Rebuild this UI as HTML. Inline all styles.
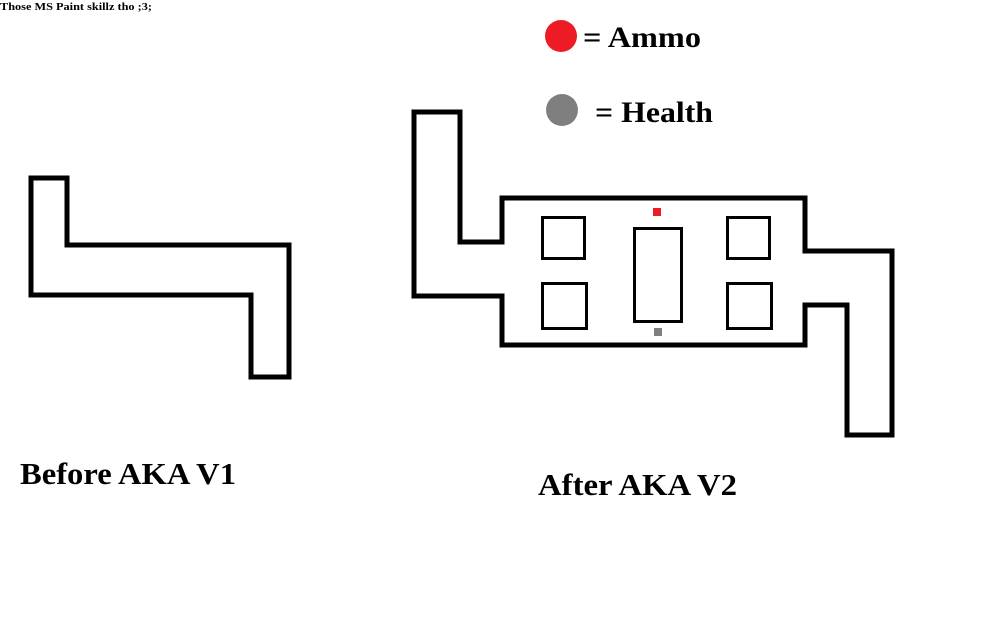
<!DOCTYPE html>
<html><head><style>
body{margin:0;width:981px;height:640px;background:#fff;overflow:hidden}
svg{display:block}
text{font-family:"Liberation Serif",serif;font-weight:bold;fill:#000}
</style></head><body>
<svg width="981" height="640" viewBox="0 0 981 640">
<text x="0" y="10" font-size="11" textLength="152" lengthAdjust="spacingAndGlyphs">Those MS Paint skillz tho ;3;</text>
<circle cx="561" cy="36" r="16" fill="#ed1c24"/>
<text x="583" y="47" font-size="30" textLength="118" lengthAdjust="spacingAndGlyphs">= Ammo</text>
<circle cx="562" cy="110" r="16" fill="#7f7f7f"/>
<text x="595" y="122" font-size="30" textLength="118" lengthAdjust="spacingAndGlyphs">= Health</text>
<path d="M31,178 L67,178 L67,245 L289,245 L289,377 L251,377 L251,295 L31,295 Z" fill="none" stroke="#000" stroke-width="5"/>
<path d="M460,112 L414,112 L414,296 L502,296 L502,345 L805,345 L805,305 L847,305 L847,435 L892,435 L892,251 L805,251 L805,198 L502,198 L502,242 L460,242 Z" fill="none" stroke="#000" stroke-width="5"/>
<g fill="none" stroke="#000" stroke-width="3">
<rect x="542.5" y="217.5" width="42" height="41"/>
<rect x="542.5" y="283.5" width="44" height="45"/>
<rect x="634.5" y="228.5" width="47" height="93"/>
<rect x="727.5" y="217.5" width="42" height="41"/>
<rect x="727.5" y="283.5" width="44" height="45"/>
</g>
<rect x="653" y="208" width="8" height="8" fill="#ed1c24"/>
<rect x="654" y="328" width="8" height="8" fill="#7f7f7f"/>
<text x="20" y="484" font-size="31" textLength="216" lengthAdjust="spacingAndGlyphs">Before AKA V1</text>
<text x="538" y="495" font-size="31" textLength="199" lengthAdjust="spacingAndGlyphs">After AKA V2</text>
</svg>
</body></html>
